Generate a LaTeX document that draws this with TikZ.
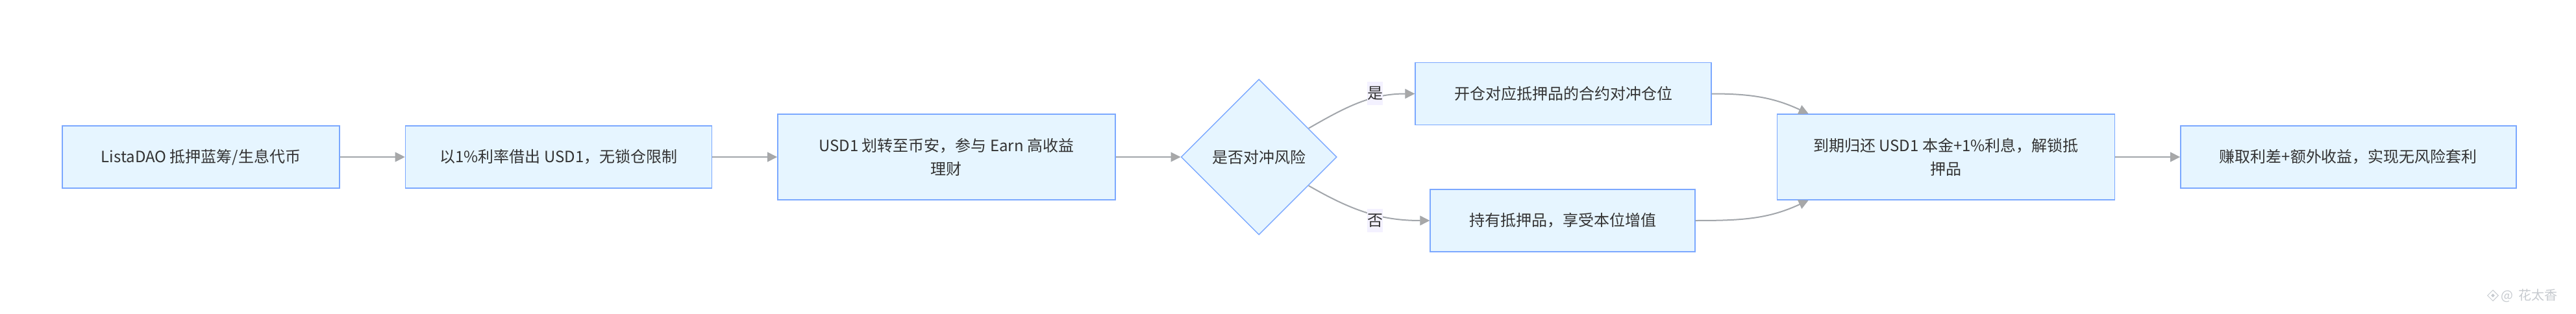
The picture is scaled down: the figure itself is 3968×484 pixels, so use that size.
\documentclass[tikz,border=0pt]{standalone}
\usepackage{fontspec}
\newfontfamily\cjkfont{Noto Sans CJK SC}
\usepackage{xcolor}
\usetikzlibrary{positioning}
\usetikzlibrary{shapes.geometric}
\usetikzlibrary{arrows.meta}
\definecolor{boxfill}{HTML}{E6F5FF}
\definecolor{boxline}{HTML}{7BA8FF}
\definecolor{edgegray}{HTML}{A2A6AB}
\definecolor{tipgray}{HTML}{A8A8A8}
\definecolor{lblfill}{HTML}{F3F1FF}
\definecolor{txtgray}{HTML}{333333}
\definecolor{markgray}{HTML}{C6CACF}

\begin{document}
\begin{tikzpicture}[x=1pt, y=-1pt,
  flowbox/.style={draw=boxline, fill=boxfill, line width=1.4pt, minimum height=96pt, inner sep=0pt, align=center, text=txtgray, font=\cjkfont\fontsize{24}{36}\selectfont},
  decide/.style={diamond, aspect=1, draw=boxline, fill=boxfill, line width=1.4pt, minimum width=240pt, minimum height=240pt, inner sep=0pt, text=txtgray, font=\cjkfont\fontsize{24}{36}\selectfont},
  flow/.style={draw=edgegray, line width=2pt, -{Triangle[length=15pt, width=15pt, line width=1pt, fill=tipgray]}},
  edgelbl/.style={fill=lblfill, inner sep=0pt, minimum width=24pt, minimum height=36pt, text=txtgray, font=\cjkfont\fontsize{24}{36}\selectfont}]
  \useasboundingbox (0,0) rectangle (3968,484);

  \node[flowbox, minimum width=427pt] (lista) at (309.5,242) {ListaDAO 抵押蓝筹/生息代币};
  \node[flowbox, minimum width=472pt, right=100pt of lista] (borrow) {以1\%利率借出 USD1，无锁仓限制};
  \node[flowbox, minimum width=520pt, minimum height=132pt, right=100pt of borrow] (earn) {USD1 划转至币安，参与 Earn 高收益\\理财};
  \node[decide, right=100pt of earn] (hedge) {是否对冲风险};
  \node[flowbox, minimum width=456pt] (short) at (2408,144.5) {开仓对应抵押品的合约对冲仓位};
  \node[flowbox, minimum width=408pt] (hold) at (2407,340) {持有抵押品，享受本位增值};
  \node[flowbox, minimum width=520pt, minimum height=132pt, anchor=west, xshift=100pt] (repay) at (short.east |- hedge) {到期归还 USD1 本金+1\%利息，解锁抵\\押品};
  \node[flowbox, minimum width=517pt, right=100pt of repay] (profit) {赚取利差+额外收益，实现无风险套利};

  \draw[flow] (lista) -- (borrow);
  \draw[flow] (borrow) -- (earn);
  \draw[flow] (earn) -- (hedge);
  \draw[flow] (hedge) to[out=30, in=180] (short);
  \draw[flow] (hedge) to[out=-30, in=180] (hold);
  \draw[flow] (short) to[out=0, in=155] ([xshift=49pt]repay.north west);
  \draw[flow] (hold) to[out=0, in=205] ([xshift=49pt]repay.south west);
  \draw[flow] (repay) -- (profit);

  \node[edgelbl] (yes) at (2118,144) {是};
  \node[edgelbl] (no) at (2118,340) {否};

  \node[diamond, draw=markgray, line width=1pt, minimum size=17pt, inner sep=0pt] (logo) at (3840,455.5) {};
  \node[diamond, fill=markgray, minimum size=6pt, inner sep=0pt] (logocore) at (logo) {};
  \node[anchor=west, inner sep=0pt, text=markgray, font=\cjkfont\fontsize{20}{20}\selectfont] (mark) at (3852,455.5) {@\hspace{8pt}花太香};
\end{tikzpicture}
\end{document}
